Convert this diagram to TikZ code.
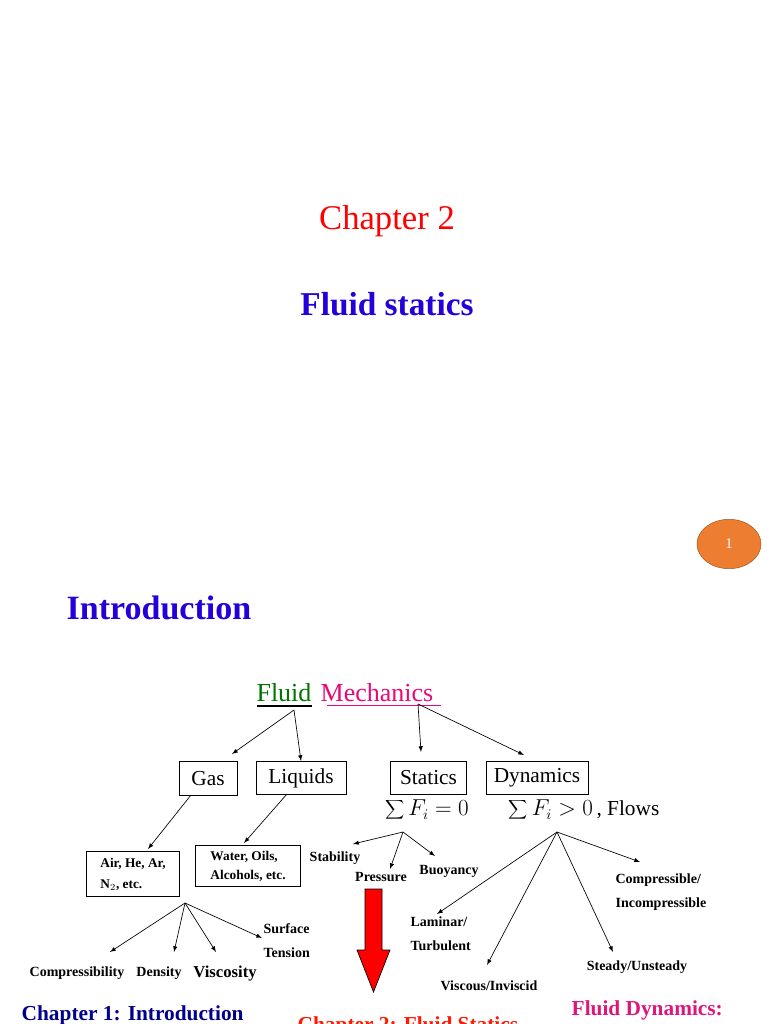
\documentclass[tikz,border=0pt]{standalone}
\usepackage{fontspec}
\setmainfont{Liberation Serif}
\usetikzlibrary{shapes.geometric}
\definecolor{pgorange}{HTML}{ED7D31}
\begin{document}
\begin{tikzpicture}[x=0.75pt,y=-0.75pt,
  box/.style={draw,line width=0.6pt,inner sep=0pt,minimum height=25pt,font=\fontsize{16}{18}\selectfont},
  lab/.style={font=\bfseries\fontsize{10.5}{18}\selectfont,inner sep=1pt,align=left},
  arr/.style={-latex,line width=0.5pt}]
\useasboundingbox (0,0) rectangle (768,1024);
\clip (0,0) rectangle (768,1024);
\node[text=red,font=\fontsize{26}{30}\selectfont] (ch2) at (387,221) {Chapter 2};
\node[text=blue!85!red,font=\bfseries\fontsize{25}{28}\selectfont] (fs) at (387,304) {Fluid statics};
\node[ellipse,draw=pgorange!70!black,fill=pgorange,minimum width=48pt,minimum height=37pt,text=white,font=\fontsize{11}{13}\selectfont] (pg) at (729,544) {1};
\node[anchor=west,text=blue!85!red,font=\bfseries\fontsize{25.5}{28}\selectfont] (intro) at (62,608) {Introduction};
\node[text=green!45!black,font=\fontsize{19.5}{22}\selectfont] (fluid) at (284,693) {Fluid};
\node[text=magenta!80!red,font=\fontsize{19.5}{22}\selectfont] (mech) at (377,693) {Mechanics};
\draw[line width=1.3pt] (257,706) -- (312,706);
\draw[magenta!80!red,line width=0.6pt] (327,705) -- (441,705);
\coordinate (fc) at (294,710);
\coordinate (mc) at (418,704);
\node[box,minimum width=43.5pt] (gas) at (208,778.5) {Gas};
\node[box,minimum width=67.5pt] (liq) at (301,778) {Liquids};
\node[box,minimum width=57.5pt] (sta) at (428.5,778) {Statics};
\node[box,minimum width=76.5pt] (dyn) at (537,778) {Dynamics};
\node[draw,line width=0.6pt,minimum width=70pt,minimum height=34pt,lab,font=\bfseries\fontsize{10}{16}\selectfont,anchor=north west] (air) at (86,851) {Air, He, Ar,\\N$_2$, etc.};
\node[draw,line width=0.6pt,minimum width=79pt,minimum height=31pt,lab,font=\bfseries\fontsize{10}{14}\selectfont,anchor=north west] (wat) at (195,845) {Water, Oils,\\Alcohols, etc.};
\node[font=\fontsize{16}{18}\selectfont] (eq1) at (427,810) {$\displaystyle\sum F_i=0$};
\node[font=\fontsize{16}{18}\selectfont] (eq2) at (584,810) {$\displaystyle\sum F_i>0$\,, Flows};
\draw[arr] (fc) -- (232,754);
\draw[arr] (fc) -- (301,761);
\draw[arr] (mc) -- (421,752);
\draw[arr] (mc) -- (524,755);
\draw[arr] (191,795) -- (148,849);
\draw[arr] (287,794) -- (244,843);
\coordinate (af) at (185,903);
\node[lab] (comp) at (77,973) {Compressibility};
\node[lab] (den) at (159,973) {Density};
\node[lab,font=\bfseries\fontsize{12.5}{14}\selectfont] (vis) at (225,974) {Viscosity};
\node[lab,anchor=west] (sur) at (262,941) {Surface\\Tension};
\draw[arr] (af) -- (110,952);
\draw[arr] (af) -- (174,952);
\draw[arr] (af) -- (216,952);
\draw[arr] (af) -- (262,938);
\coordinate (sf) at (403,832);
\node[lab] (stab) at (335,858) {Stability};
\node[lab] (pres) at (381,877) {Pressure};
\node[lab] (buoy) at (449,871) {Buoyancy};
\draw[arr] (sf) -- (353,844);
\draw[arr] (sf) -- (390,869);
\draw[arr] (sf) -- (435,856);
\coordinate (df) at (557,832);
\node[lab,anchor=west] (lam) at (409,934) {Laminar/\\Turbulent};
\node[lab] (visc) at (489,986) {Viscous/Inviscid};
\node[lab] (stead) at (637,967) {Steady/Unsteady};
\node[lab,anchor=west] (cmp) at (614,892) {Compressible/\\Incompressible};
\draw[arr] (df) -- (437,914);
\draw[arr] (df) -- (487,965);
\draw[arr] (df) -- (613,952);
\draw[arr] (df) -- (640,862);
\draw[fill=red,line width=0.5pt] (365,889) -- (382,889) -- (382,950) -- (390,950) -- (373.5,992) -- (357,950) -- (365,950) -- cycle;
\node[anchor=west,text=blue!55!black,font=\bfseries\fontsize{16}{18}\selectfont] (c1) at (17,1015) {Chapter 1: Introduction};
\node[anchor=west,text=red!80!orange,font=\bfseries\fontsize{16}{18}\selectfont] (c2) at (293,1026) {Chapter 2: Fluid Statics};
\node[anchor=west,text=magenta!70!purple,font=\bfseries\fontsize{16}{18}\selectfont] (c3) at (567,1010) {Fluid Dynamics:};
\end{tikzpicture}
\end{document}
